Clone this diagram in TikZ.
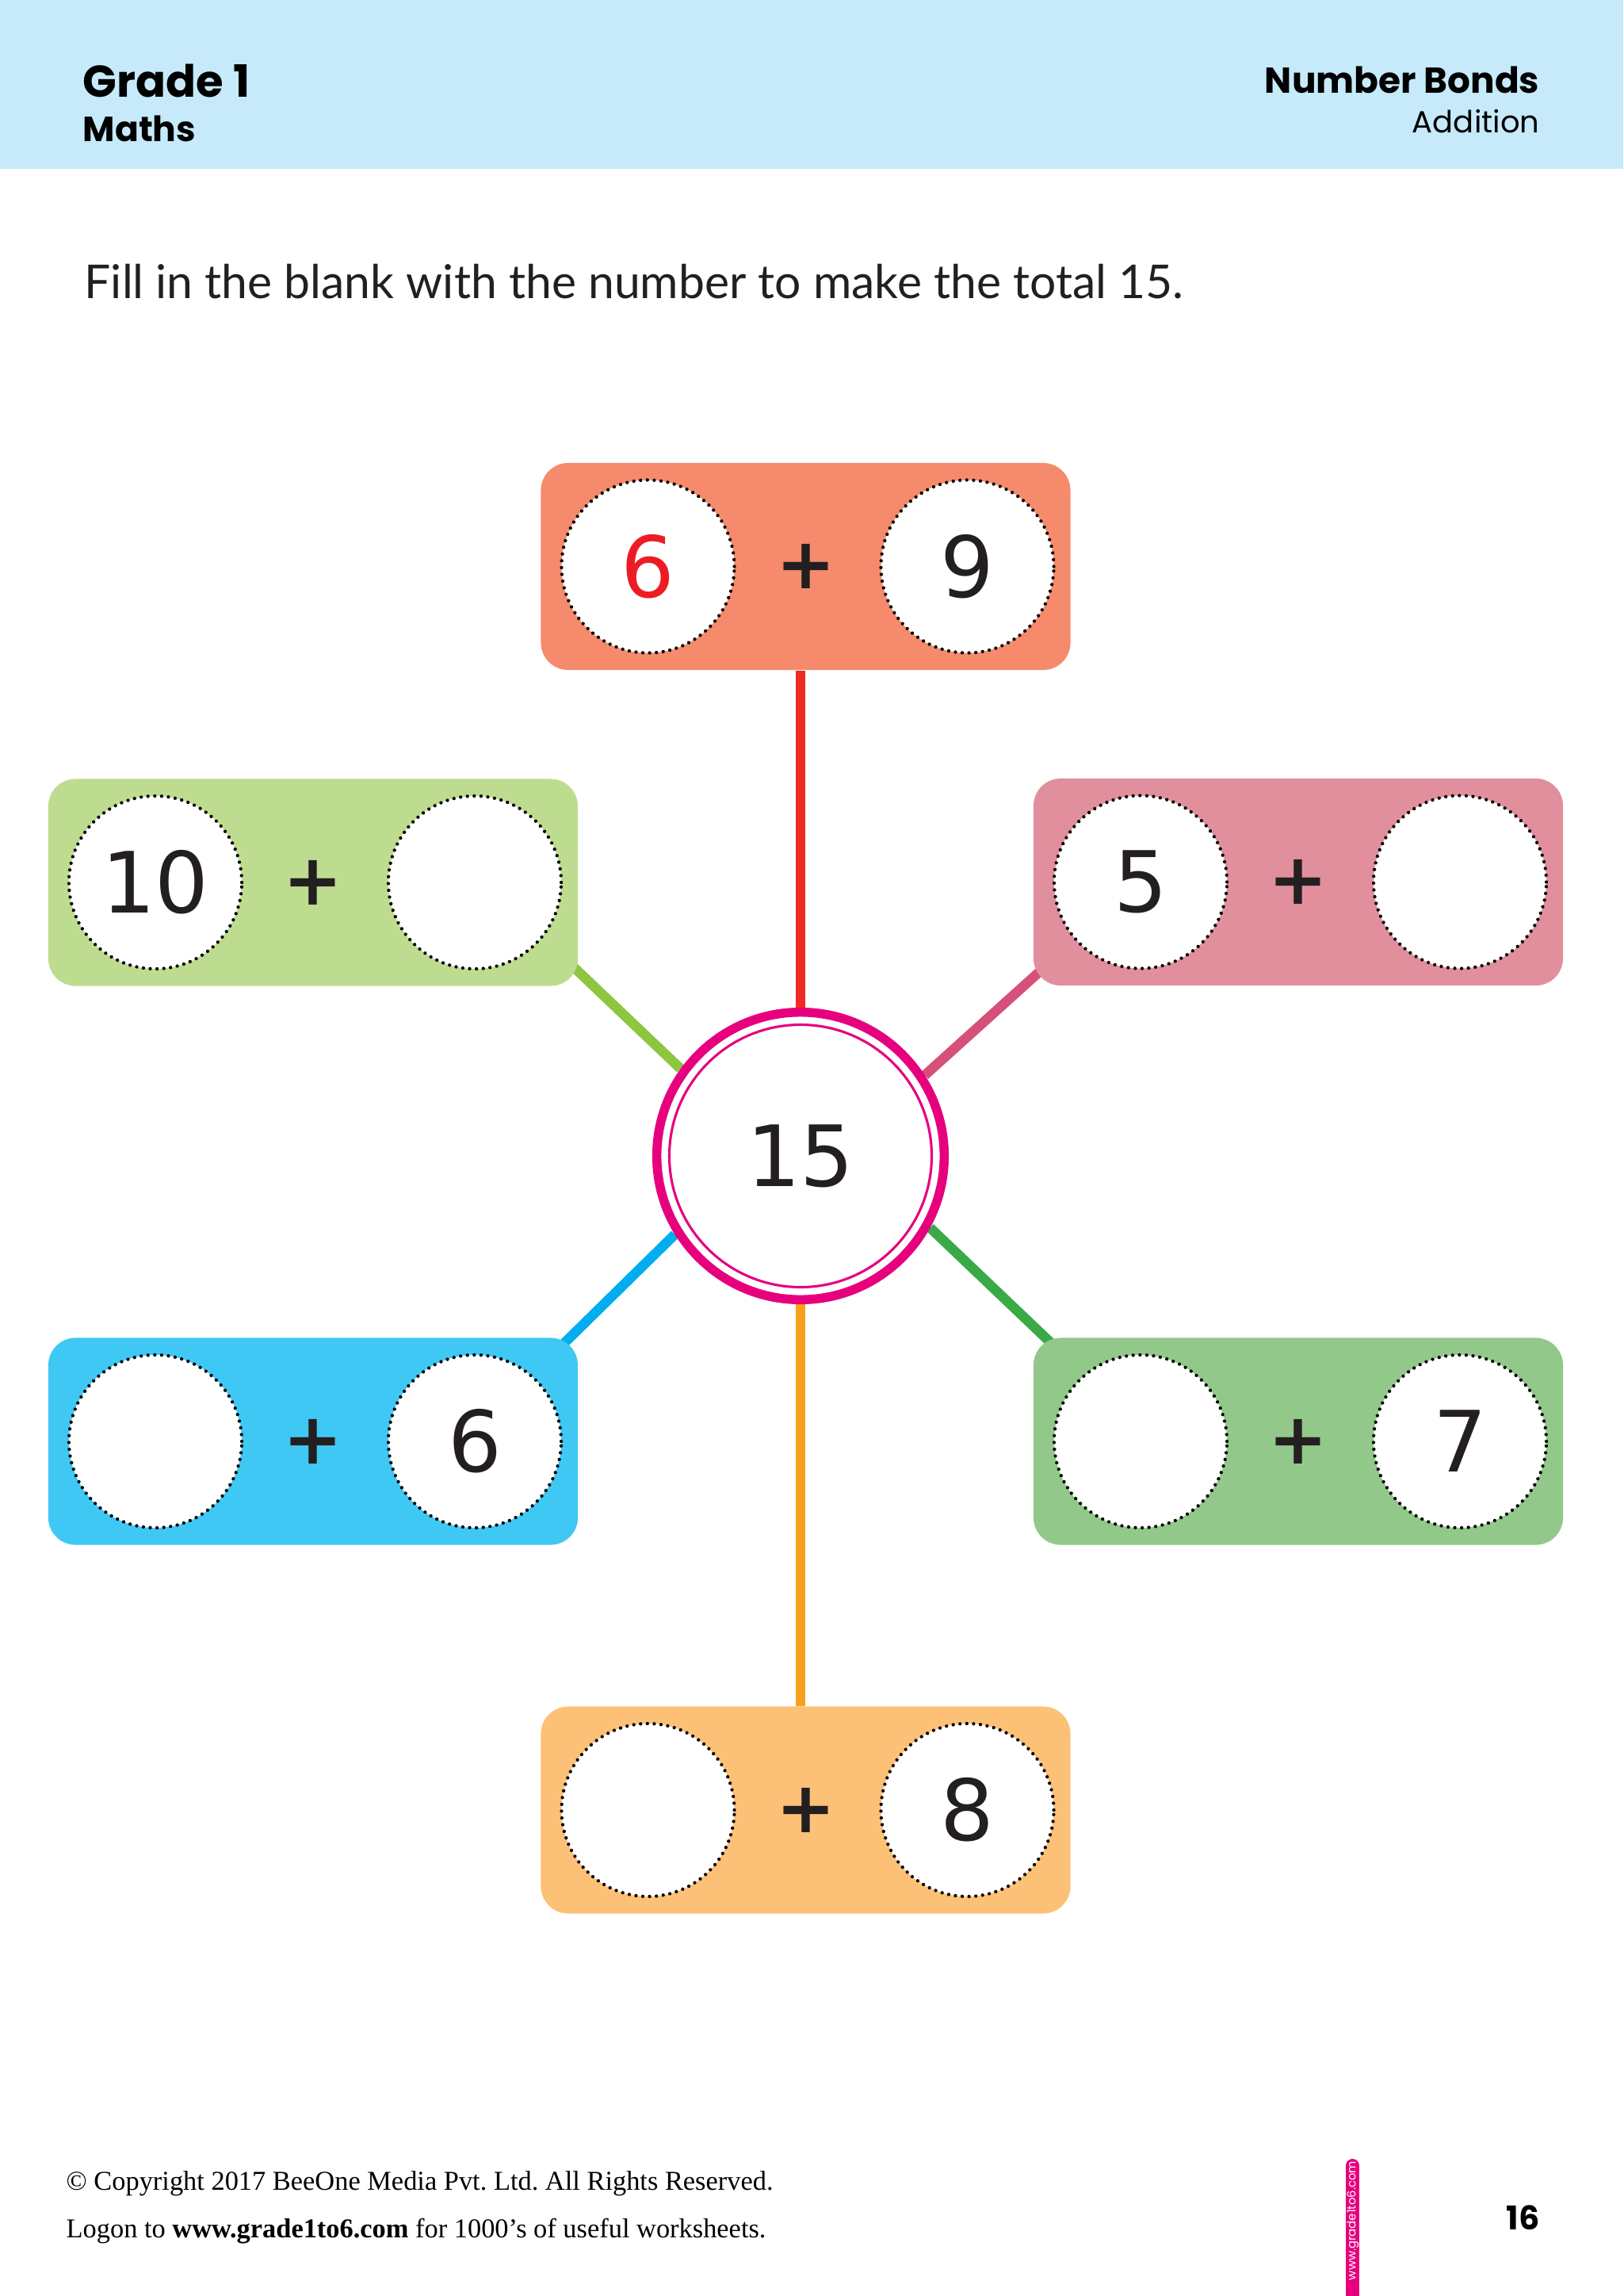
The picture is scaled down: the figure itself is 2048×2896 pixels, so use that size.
\documentclass[tikz,border=0pt]{standalone}
\usepackage{fontspec}
\setmainfont{Liberation Serif}
\newfontfamily\hdrfont{Poppins}
\newfontfamily\numfont{DejaVu Sans}
\newfontfamily\instrfont{Lato}
\usetikzlibrary{calc}
\pgfdeclarelayer{bg}
\pgfsetlayers{bg,main}
\frenchspacing
\definecolor{hdrblue}{HTML}{C6EAF9}
\definecolor{mag}{HTML}{E6007E}
\definecolor{digit}{HTML}{231F20}
\definecolor{numred}{HTML}{ED1C24}
\definecolor{fsalmon}{HTML}{F58B6C}
\definecolor{flime}{HTML}{BEDC90}
\definecolor{fpink}{HTML}{E18F9C}
\definecolor{fcyan}{HTML}{40C8F4}
\definecolor{fgreen}{HTML}{92C88A}
\definecolor{forange}{HTML}{FDC077}
\definecolor{cred}{HTML}{EE2A24}
\definecolor{clime}{HTML}{8DC63F}
\definecolor{cpink}{HTML}{D6517A}
\definecolor{cblue}{HTML}{00AEEF}
\definecolor{cgreen}{HTML}{3AAA47}
\definecolor{corange}{HTML}{F7A11C}
\tikzset{
  bbox/.style={rectangle, rounded corners=10pt, minimum width=194.2pt, minimum height=75.9pt, inner sep=0pt, draw=none},
  slot/.style={circle, fill=white, draw=black, minimum size=63.4pt, inner sep=0pt, line width=1.25pt,
     dash pattern=on 0pt off 2.5pt, line cap=round, text=digit, font=\numfont\fontsize{31}{31}\selectfont},
  plusn/.style={inner sep=0pt, text=digit, font=\numfont\bfseries\fontsize{26}{26}\selectfont},
  conn/.style={line width=3.63pt},
}
\newcommand\bondbox[5]{%
  \node[bbox, fill=#3] (#1) at (#2) {};
  \node[slot] (#1-l) at ([shift={(-199,0)}]#1.center) {#4};
  \node[plusn] (#1-p) at (#1.center) {+};
  \node[slot] (#1-r) at ([shift={(204,0)}]#1.center) {#5};
}
\begin{document}
\begin{tikzpicture}[x=0.29066pt,y=-0.29066pt]
\useasboundingbox (0,0) rectangle (2048,2896);
% header
\fill[hdrblue] (0,0) rectangle (2048,213);
\node[anchor=base west, inner sep=0pt, font=\hdrfont\bfseries\fontsize{16.3}{18}\selectfont] (grade) at (104,122) {Grade 1};
\node[anchor=base west, inner sep=0pt, font=\hdrfont\bfseries\fontsize{12.8}{15}\selectfont] (maths) at (104,178) {Maths};
\node[anchor=base east, inner sep=0pt, font=\hdrfont\bfseries\fontsize{13.2}{16}\selectfont] (nb) at (1943,117) {Number Bonds};
\node[anchor=base east, inner sep=0pt, font=\hdrfont\fontsize{11.2}{13}\selectfont] (add) at (1943,167) {Addition};
% instruction
\node[anchor=base west, inner sep=0pt, text=digit, font=\instrfont\fontsize{17.1}{20}\selectfont] (instr) at (106,376) {Fill in the blank with the number to make the total 15.};
% boxes
\bondbox{t}{1016.5,714.5}{fsalmon}{\textcolor{numred}{6}}{9}
\bondbox{ul}{395,1113}{flime}{10}{}
\bondbox{ur}{1638,1112.5}{fpink}{5}{}
\bondbox{ll}{395,1818}{fcyan}{}{6}
\bondbox{lr}{1638,1818}{fgreen}{}{7}
\bondbox{bot}{1016.5,2283}{forange}{}{8}
% centre
\node[circle, fill=white, draw=mag, line width=3.34pt, minimum size=105.4pt, inner sep=0pt,
      text=digit, font=\numfont\fontsize{31}{31}\selectfont] (c) at (1010,1458) {15};
\draw[mag, line width=0.9pt] (c.center) circle[radius=165.5];
% connectors
\begin{pgfonlayer}{bg}
\draw[conn, cred] (c.center) -- (c.center |- t.south);
\draw[conn, corange] (c.center) -- (c.center |- bot.north);
\draw[conn, clime] ([shift={(-37,-54)}]ul.south east) -- (c.144.5);
\draw[conn, cpink] ([shift={(37,-44)}]ur.south west) -- (c.33.1);
\draw[conn, cblue] ([shift={(-45,34)}]ll.north east) -- (c.212.8);
\draw[conn, cgreen] ([shift={(51,34)}]lr.north west) -- (c.331);
\end{pgfonlayer}
% footer
\node[anchor=base west, inner sep=0pt, font=\fontsize{10}{12}\selectfont] (copy) at (83,2762) {© Copyright 2017 BeeOne Media Pvt. Ltd. All Rights Reserved.};
\node[anchor=base west, inner sep=0pt, font=\fontsize{10}{12}\selectfont] (logon) at (83,2822) {Logon to \textbf{www.grade1to6.com} for 1000’s of useful worksheets.};
\node[anchor=base east, inner sep=0pt, font=\hdrfont\bfseries\fontsize{12}{14}\selectfont] (pg) at (1943,2812) {16};
\fill[mag] (1698,2896) rectangle (1715,2731.5);
\fill[mag] (1706.5,2731.5) circle[radius=8.5];
\node[rotate=90, inner sep=0pt, text=white, font=\hdrfont\fontsize{4.3}{5}\selectfont] (url) at (1707,2801) {www.grade1to6.com};
\end{tikzpicture}
\end{document}
